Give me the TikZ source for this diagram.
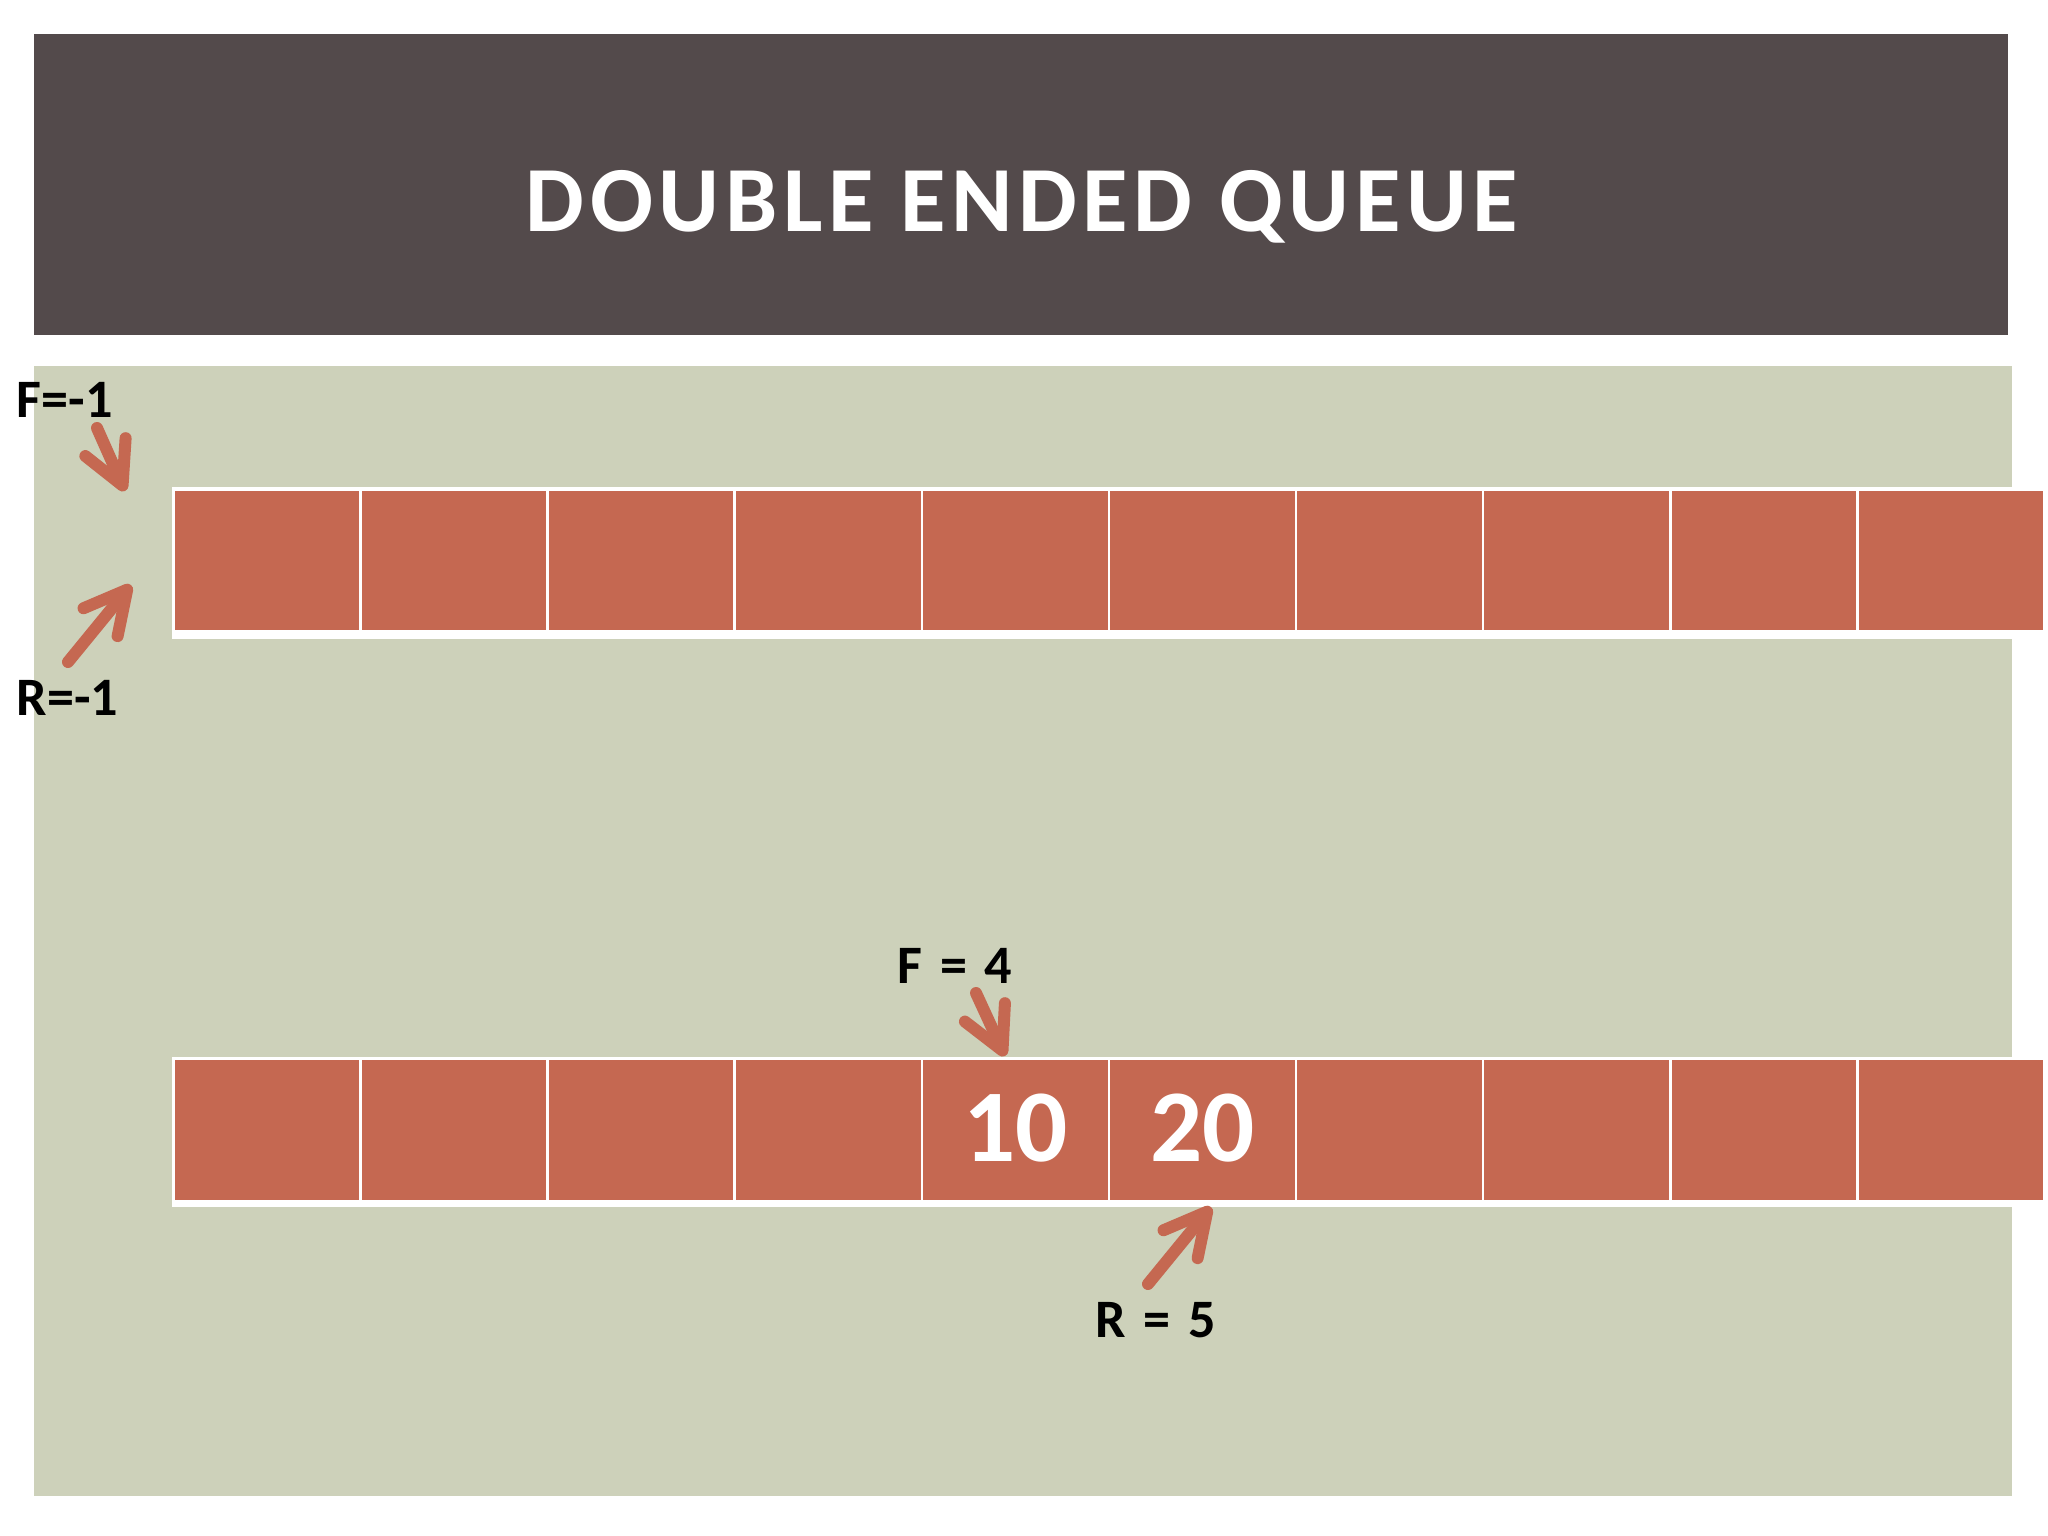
\documentclass[tikz,border=0pt]{standalone}
\usepackage{fontspec}
\setmainfont{Carlito}
\usetikzlibrary{arrows.meta}
\newlength{\px}
\setlength{\px}{0.01cm}

\begin{document}
\begin{tikzpicture}[x=0.01cm,y=-0.01cm]
\definecolor{headgray}{RGB}{83,74,75}
\definecolor{panelgreen}{RGB}{205,209,186}
\definecolor{cellred}{RGB}{197,104,81}
\tikzset{
  cellbox/.style={rectangle, fill=cellred, inner sep=0pt, anchor=north west, minimum width=184.5\px, minimum height=139.5\px},
  lbl/.style={inner sep=0pt, anchor=base west, font=\bfseries\fontsize{15.4}{18}\selectfont},
  val/.style={inner sep=0pt, text=white, font=\bfseries\fontsize{29.3}{34}\selectfont},
  ptr/.style={draw=cellred, line width=12\px, line cap=round, -{Straight Barb[round, length=4.2mm, width=4.4mm]}}
}
\useasboundingbox (0,0) rectangle (2048,1536);
\fill[white] (0,0) rectangle (2048,1536);
% header
\fill[headgray] (34,34) rectangle (2008,335);
\node[inner sep=0pt, anchor=base, text=white, font=\bfseries\fontsize{26.5}{30}\selectfont] (title) at (1022,231) {\addfontfeature{LetterSpace=6}DOUBLE ENDED QUEUE};
% panel
\fill[panelgreen] (34,366) rectangle (2012,1496);
% empty queue
\fill[white] (172,487) rectangle (2046,639);
\foreach \i in {0,...,9}
  \node[cellbox] (upcell\i) at ({174+187.1*\i},490) {};
\node[lbl] (lblF1) at (16,417) {F=-1};
\node[lbl] (lblR1) at (16,715) {R=-1};
\coordinate (ftail1) at (97,428);
\coordinate (fhead1) at (125,491);
\coordinate (rtail1) at (68,662);
\coordinate (rhead1) at (131,585);
\draw[ptr] (ftail1) -- (fhead1);
\draw[ptr] (rtail1) -- (rhead1);
% queue with two items
\fill[white] (172,1057) rectangle (2046,1207);
\foreach \i in {0,...,9}
  \node[cellbox] (lowcell\i) at ({174+187.1*\i},1059.5) {};
\node[val] (v10) at ([yshift=1.5\px]lowcell4.center) {10};
\node[val] (v20) at ([yshift=1.5\px]lowcell5.center) {20};
\node[lbl] (lblF2) at (897,983) {F~\hspace{1.5pt}=~\hspace{1.5pt}4};
\node[lbl] (lblR2) at (1095,1337) {R~\hspace{1.5pt}=~\hspace{1.5pt}5};
\coordinate (ftail2) at (976,993);
\coordinate (fhead2) at (1005,1056);
\coordinate (rtail2) at (1148,1284);
\coordinate (rhead2) at (1211,1207);
\draw[ptr] (ftail2) -- (fhead2);
\draw[ptr] (rtail2) -- (rhead2);
\end{tikzpicture}
\end{document}
